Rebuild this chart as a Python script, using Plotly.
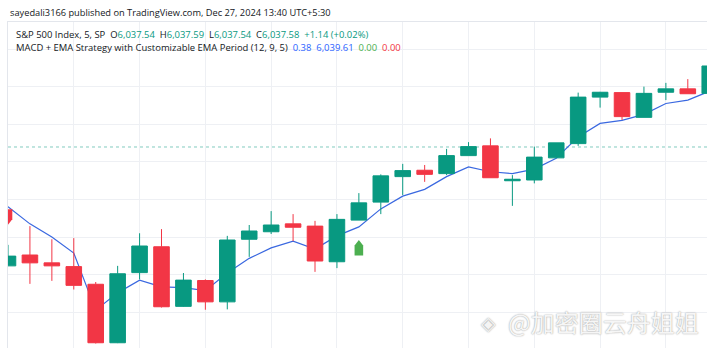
import plotly.graph_objects as go

# 5-minute S&P 500 bars (index points), oldest first
bar_index = list(range(33))
open_ = [6034.41, 6034.70, 6034.49, 6034.39, 6033.92, 6032.36, 6034.23, 6034.92, 6033.33, 6034.02,
         6033.45, 6035.12, 6035.32, 6035.53, 6035.47, 6034.52, 6035.63, 6036.11, 6036.79, 6036.96,
         6036.87, 6037.35, 6037.61, 6036.68, 6036.70, 6037.29, 6037.67, 6038.91, 6039.03, 6038.37,
         6039.04, 6039.13, 6039.01]
high = [6034.97, 6035.47, 6035.12, 6035.15, 6033.98, 6034.41, 6035.28, 6035.39, 6034.22, 6034.05,
        6035.21, 6035.50, 6035.87, 6035.79, 6035.61, 6035.79, 6036.35, 6036.85, 6037.13, 6037.10,
        6037.53, 6037.71, 6037.81, 6036.83, 6037.59, 6037.69, 6039.03, 6039.05, 6039.03, 6039.19,
        6039.29, 6039.39, 6039.80]
low = [6034.41, 6033.93, 6034.01, 6033.78, 6032.34, 6032.35, 6034.05, 6033.30, 6033.32, 6033.24,
       6033.25, 6034.65, 6035.26, 6035.07, 6034.25, 6034.35, 6035.63, 6035.79, 6036.30, 6036.65,
       6036.83, 6037.35, 6036.76, 6036.01, 6036.61, 6037.29, 6037.61, 6038.63, 6038.30, 6038.37,
       6038.83, 6039.00, 6039.01]
close = [6034.67, 6034.49, 6034.41, 6033.89, 6032.36, 6034.20, 6034.94, 6033.32, 6034.03, 6033.45,
         6035.10, 6035.34, 6035.50, 6035.44, 6034.54, 6035.65, 6036.09, 6036.81, 6036.95, 6036.85,
         6037.35, 6037.59, 6036.76, 6036.72, 6037.31, 6037.69, 6038.91, 6039.04, 6038.39, 6039.01,
         6039.13, 6039.00, 6039.74]
ema5 = [6035.99, 6035.53, 6035.18, 6034.75, 6033.23, 6033.69, 6034.03, 6033.85, 6033.83, 6033.75,
        6034.22, 6034.61, 6034.89, 6035.07, 6034.86, 6035.21, 6035.45, 6035.93, 6036.27, 6036.45,
        6036.79, 6037.05, 6036.92, 6036.87, 6036.99, 6037.28, 6037.85, 6038.21, 6038.29, 6038.45,
        6038.74, 6038.83, 6039.07]

# strategy signals (bar indices)
buy_signal_bars = [16]
sell_signal_bars = [0]

# legend values of the latest bar
last_ohlc = ["6,037.54", "6,037.59", "6,037.54", "6,037.58"]
last_change = "+1.14 (+0.02%)"
last_close = 6037.58
indicator_values = ["0.38", "6,039.61", "0.00", "0.00"]

# ---- layout geometry ----
W, H = 707, 348
M_L, M_T = 8, 22
plot_w, plot_h = W - M_L, H - M_T
x_range = [0, 31.875]
y_range = [6032.22, 6040.913]
x_per_px = (x_range[1] - x_range[0]) / plot_w
y_per_px = (y_range[1] - y_range[0]) / plot_h

UP, DOWN = "#089981", "#F23645"
TEXT = "#131722"

fig = go.Figure()

# EMA on the base axes
fig.add_trace(go.Scatter(
    x=bar_index, y=ema5, mode="lines",
    line=dict(color="#3a68e0", width=1.2),
    showlegend=False, hoverinfo="skip",
))

# candles on an overlaid pair of axes so the bodies are painted over the EMA
fig.add_trace(go.Candlestick(
    x=bar_index, open=open_, high=high, low=low, close=close,
    increasing=dict(line=dict(color=UP, width=1), fillcolor=UP),
    decreasing=dict(line=dict(color=DOWN, width=1), fillcolor=DOWN),
    whiskerwidth=0, showlegend=False, hoverinfo="skip",
    xaxis="x2", yaxis="y2",
))


def signal_path(xc, edge, up):
    """Pentagon arrow placed a fixed pixel gap below (buy) or above (sell) the bar."""
    hw = 4.3 * x_per_px
    h = 15.5 * y_per_px
    tip = 5.5 * y_per_px
    gap = 20 * y_per_px
    if up:
        t = edge - gap
        pts = [(xc, t), (xc + hw, t - tip), (xc + hw, t - h), (xc - hw, t - h), (xc - hw, t - tip)]
    else:
        b = edge + gap
        pts = [(xc, b), (xc + hw, b + tip), (xc + hw, b + h), (xc - hw, b + h), (xc - hw, b + tip)]
    return "M " + " L ".join(f"{px:.4f},{py:.4f}" for px, py in pts) + " Z"


shapes = []
for i in buy_signal_bars:
    shapes.append(dict(type="path", xref="x", yref="y", path=signal_path(bar_index[i], low[i], True),
                       fillcolor="#4CAF50", line=dict(width=0), layer="above"))
for i in sell_signal_bars:
    shapes.append(dict(type="path", xref="x", yref="y", path=signal_path(bar_index[i], high[i], False),
                       fillcolor=DOWN, line=dict(width=0), layer="above"))

# last price line
shapes.append(dict(type="line", xref="paper", x0=0, x1=1, yref="y", y0=last_close, y1=last_close,
                   line=dict(color="rgba(8,153,129,0.5)", width=1, dash="dot"), layer="below"))


def px_x(x):
    return (x - M_L) / plot_w


def px_y(y):
    return (H - y) / plot_h


def span(color, text):
    return f'<span style="color:{color}">{text}</span>'


GAP = "\u00a0\u00a0"
G = UP
line2 = (span(TEXT, "S&P 500 Index, 5, SP") + GAP
         + span(TEXT, "O") + span(G, last_ohlc[0]) + GAP
         + span(TEXT, "H") + span(G, last_ohlc[1]) + GAP
         + span(TEXT, "L") + span(G, last_ohlc[2]) + GAP
         + span(TEXT, "C") + span(G, last_ohlc[3]) + GAP
         + span(G, last_change))
line3 = (span(TEXT, "MACD + EMA Strategy with Customizable EMA Period (12, 9, 5)") + GAP
         + span("#2962FF", indicator_values[0]) + GAP
         + span("#2962FF", indicator_values[1]) + GAP
         + span("#4CAF50", indicator_values[2]) + GAP
         + span(DOWN, indicator_values[3]))

HF = "Open Sans, sans-serif"
annotations = [
    dict(text="sayedali3166 published on TradingView.com, Dec 27, 2024 13:40 UTC+5:30",
         x=px_x(8), y=px_y(12.5), font=dict(family=HF, size=9.25, color=TEXT)),
    dict(text=line2, x=px_x(14), y=px_y(34), font=dict(family=HF, size=9.45, color=TEXT)),
    dict(text=line3, x=px_x(14), y=px_y(47.5), font=dict(family=HF, size=9.45, color=TEXT)),
    dict(text="◈", x=px_x(488), y=px_y(323), xanchor="center",
         font=dict(family="DejaVu Sans", size=19, color="#f4f4f4", shadow="0px 0px 1.5px #8a8a8a")),
    dict(text="@加密圈云舟姐姐", x=px_x(506), y=px_y(321),
         font=dict(family="Noto Sans CJK SC", size=24, color="#f6f6f6", shadow="0px 0px 1.5px #8a8a8a")),
]
for a in annotations:
    a.setdefault("xanchor", "left")
    a.update(xref="paper", yref="paper", yanchor="middle", showarrow=False)

fig.update_layout(
    width=W, height=H,
    margin=dict(l=M_L, r=0, t=M_T, b=0),
    paper_bgcolor="white", plot_bgcolor="white",
    boxgap=0.29, boxgroupgap=0,
    xaxis=dict(range=x_range, tick0=0, dtick=3, showgrid=True, gridcolor="#eef0f4", gridwidth=1,
               showticklabels=False, ticks="", zeroline=False, rangeslider=dict(visible=False),
               side="top", showline=True, linecolor="#e3e6ec", linewidth=1, fixedrange=True),
    yaxis=dict(range=y_range, tick0=6036.18, dtick=1, showgrid=True, gridcolor="#eef0f4", gridwidth=1,
               showticklabels=False, ticks="", zeroline=False,
               showline=True, linecolor="#e3e6ec", linewidth=1, fixedrange=True),
    xaxis2=dict(overlaying="x", range=x_range, visible=False, rangeslider=dict(visible=False),
                fixedrange=True),
    yaxis2=dict(overlaying="y", range=y_range, visible=False, fixedrange=True),
    shapes=shapes,
    annotations=annotations,
)

fig.write_html("out.html", config=dict(displayModeBar=False))
